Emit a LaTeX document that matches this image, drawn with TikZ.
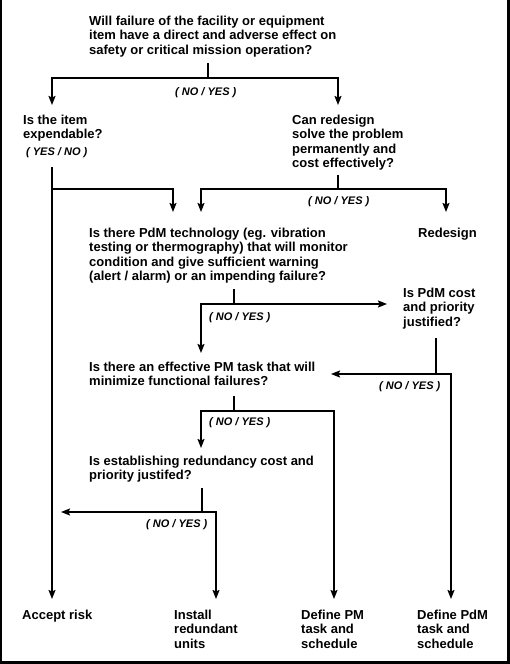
\documentclass[tikz,border=0pt]{standalone}
\usepackage{fontspec}
\setmainfont{Liberation Sans}
\usetikzlibrary{arrows.meta}
\begin{document}
\begin{tikzpicture}[x=1pt,y=-1pt,
  txt/.style={anchor=north west,inner sep=0pt,align=left,font=\fontsize{13}{14.3}\selectfont\bfseries},
  lbl/.style={anchor=west,inner sep=0pt,font=\fontsize{11}{12}\selectfont\bfseries\itshape},
  conn/.style={line width=1.6pt},
  arr/.style={conn,-{Stealth[length=9pt,width=7pt,inset=1.5pt]}},
  darr/.style={conn,{Stealth[length=9pt,width=7pt,inset=1.5pt]}-{Stealth[length=9pt,width=7pt,inset=1.5pt]}}]
\useasboundingbox (0,0) rectangle (510,664);
\fill[white] (0,0) rectangle (510,664);
% frame
\draw[line width=1.5pt] (0.75,0) -- (0.75,664);
\draw[line width=3pt] (508.5,0) -- (508.5,662.5) -- (0,662.5);
% texts
\node[txt] (q1) at (89,16) {Will failure of the facility or equipment\\item have a direct and adverse effect on\\safety or critical mission operation?};
\node[txt] (exp) at (23,115) {Is the item\\expendable?};
\node[txt] (rdq) at (292,115) {Can redesign\\solve the problem\\permanently and\\cost effectively?};
\node[txt] (pdm) at (89,228) {Is there PdM technology (eg. vibration\\testing or thermography) that will monitor\\condition and give sufficient warning\\(alert / alarm) or an impending failure?};
\node[txt] (rd) at (418,228) {Redesign};
\node[txt] (pdmc) at (403,288) {Is PdM cost\\and priority\\justified?};
\node[txt] (pm) at (89,362) {Is there an effective PM task that will\\minimize functional failures?};
\node[txt] (red) at (89,456) {Is establishing redundancy cost and\\priority justifed?};
\node[txt] (acc) at (22,610) {Accept risk};
\node[txt] (ins) at (174,610) {Install\\redundant\\units};
\node[txt] (dpm) at (301,610) {Define PM\\task and\\schedule};
\node[txt] (dpdm) at (417,610) {Define PdM\\task and\\schedule};
% labels
\node[lbl] (l1) at (175,93) {( NO / YES )};
\node[lbl] (l2) at (26,153) {( YES / NO )};
\node[lbl] (l3) at (308,202) {( NO / YES )};
\node[lbl] (l4) at (209,318) {( NO / YES )};
\node[lbl] (l5) at (379,387) {( NO / YES )};
\node[lbl] (l6) at (209,423) {( NO / YES )};
\node[lbl] (l7) at (146,525) {( NO / YES )};
% coordinates
\coordinate (q1s) at (208,63);
\coordinate (j1) at (208,78);
\coordinate (expIn) at (52,105);
\coordinate (rdqIn) at (338,105);
\coordinate (exps) at (52,167);
\coordinate (j2) at (52,189);
\coordinate (accIn) at (52,599);
\coordinate (pdmIn1) at (173,212);
\coordinate (rdqs) at (338,175);
\coordinate (j3) at (338,189);
\coordinate (pdmIn2) at (201,212);
\coordinate (rdIn) at (446,212);
\coordinate (pdms) at (234,289);
\coordinate (j4) at (234,304);
\coordinate (pdmcIn) at (387,304);
\coordinate (pmIn1) at (201,353);
\coordinate (pdmcs) at (436,338);
\coordinate (j5) at (436,374);
\coordinate (k5) at (451,374);
\coordinate (pmIn2) at (331,374);
\coordinate (dpdmIn) at (451,599);
\coordinate (pms) at (234,396);
\coordinate (j6) at (234,411);
\coordinate (redIn) at (201,448);
\coordinate (dpmIn) at (334,599);
\coordinate (reds) at (202,488);
\coordinate (j7) at (202,512);
\coordinate (k7) at (216,512);
\coordinate (accIn2) at (61,512);
\coordinate (insIn) at (216,599);
% connectors
\draw[conn] (q1s) -- (j1);
\draw[arr] (j1) -| (expIn);
\draw[arr] (j1) -| (rdqIn);
\draw[arr] (exps) -- (accIn);
\draw[arr] (j2) -| (pdmIn1);
\draw[conn] (rdqs) -- (j3);
\draw[arr] (j3) -| (pdmIn2);
\draw[arr] (j3) -| (rdIn);
\draw[conn] (pdms) -- (j4);
\draw[arr] (j4) -- (pdmcIn);
\draw[arr] (j4) -| (pmIn1);
\draw[conn] (pdmcs) -- (j5);
\draw[darr] (pmIn2) -- (k5) -- (dpdmIn);
\draw[conn] (pms) -- (j6);
\draw[arr] (j6) -| (redIn);
\draw[arr] (j6) -| (dpmIn);
\draw[conn] (reds) -- (j7);
\draw[darr] (accIn2) -- (k7) -- (insIn);
\end{tikzpicture}
\end{document}
